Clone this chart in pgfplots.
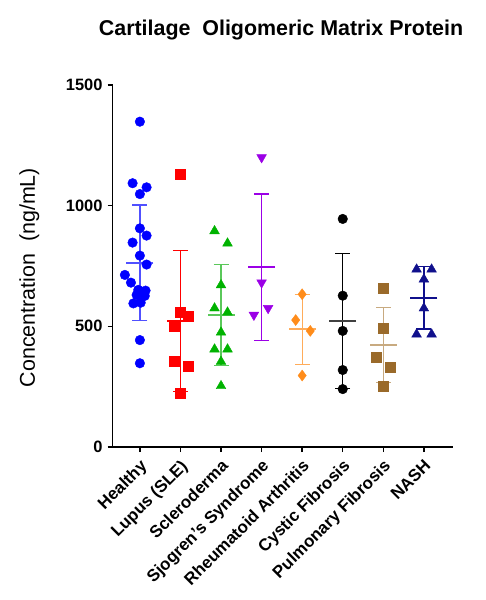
\documentclass[border=0pt]{standalone}
\usepackage{pgfplots}
\pgfplotsset{compat=1.18}
\usepackage{fontspec}
\setmainfont{Liberation Sans}
\definecolor{hblue}{RGB}{0,0,255}
\definecolor{hbar}{RGB}{80,80,255}
\definecolor{lred}{RGB}{255,0,0}
\definecolor{sgreen}{RGB}{0,178,0}
\definecolor{sbar}{RGB}{90,200,90}
\definecolor{spurple}{RGB}{155,0,230}
\definecolor{rorange}{RGB}{255,140,26}
\definecolor{rbar}{RGB}{255,172,90}
\definecolor{cgray}{RGB}{64,64,64}
\definecolor{pbrown}{RGB}{154,106,42}
\definecolor{pbar}{RGB}{200,170,128}
\definecolor{nnavy}{RGB}{16,16,140}
\pgfplotsset{
  msd/.style 2 args={only marks, mark=-, mark size=13.5bp, color=#1, mark options={line width=1.5bp},
    error bars/.cd, y dir=both, y explicit,
    error bar style={line width=1.3bp, color=#2},
    error mark options={rotate=90, mark size=7.5bp, line width=1.3bp, color=#2}},
}
\begin{document}
\begin{tikzpicture}
\path[use as bounding box] (0,0) rectangle (486bp,600bp);
\begin{axis}[
  at={(112.7bp,153bp)}, anchor=south west,
  scale only axis, width=340bp, height=362bp,
  xmin=-0.67, xmax=7.71, ymin=0, ymax=1500,
  axis x line*=bottom, axis y line*=left,
  axis line style={line width=1.4bp, black},
  xtick={0,1,2,3,4,5,6,7},
  xticklabels={Healthy,Lupus (SLE),Scleroderma,Sjogren's Syndrome,Rheumatoid Arthritis,Cystic Fibrosis,Pulmonary Fibrosis,NASH},
  ytick={0,500,1000,1500},
  tick align=outside, major tick length=5bp,
  tick style={line width=1.4bp, black},
  /pgf/number format/assume math mode=true,
  /pgf/number format/1000 sep={},
  yticklabel style={font=\bfseries\fontsize{16.5}{18}\selectfont, inner sep=1.5bp, xshift=-3.5bp},
  xticklabel style={font=\bfseries\fontsize{17}{19}\selectfont, rotate=45, anchor=north east, inner sep=1bp, xshift=-4bp, yshift=-3bp},
  ylabel={Concentration\ \ (ng/mL)},
  ylabel style={at={(axis description cs:-0.245,0.468)}, anchor=center, font=\fontsize{21.5}{23}\selectfont},
  title={Cartilage\ \ Oligomeric Matrix Protein},
  title style={at={(axis description cs:0.495,1.135)}, anchor=center, font=\bfseries\fontsize{21.5}{24}\selectfont},
  clip=false,
]
% mean and SD
\addplot[msd={hbar}{hbar}] coordinates {(0,763) +- (0,240)};
\addplot[msd={lred}{lred}] coordinates {(1,522) +- (0,292)};
\addplot[msd={sbar}{sbar}] coordinates {(2,547) +- (0,210)};
\addplot[msd={spurple}{spurple}] coordinates {(3,745) +- (0,303)};
\addplot[msd={rbar}{rbar}] coordinates {(4,488) +- (0,145)};
\addplot[msd={cgray}{black}] coordinates {(5,523) +- (0,280)};
\addplot[msd={pbar}{pbar}] coordinates {(6,423) +- (0,156)};
\addplot[msd={nnavy}{nnavy}] coordinates {(7,618) +- (0,129)};
% points
\addplot[only marks, mark=*, mark size=4.8bp, color=hblue, mark options={draw=hblue, fill=hblue}] coordinates {
(0,1348) (-0.18,1093) (0.165,1076) (0,1048) (0,906) (0.165,876) (-0.18,847)
(0,793) (0.165,756) (-0.37,713) (-0.22,681) (-0.04,651) (0.14,648) (-0.08,630)
(0.12,626) (-0.16,595) (0.02,598) (0,443) (0,347)};
\addplot[only marks, mark=square*, mark size=5bp, color=lred, mark options={draw=lred, fill=lred}] coordinates {
(1,1131) (1,557) (1.2,543) (0.84,501) (0.84,354) (1.18,336) (1,225)};
\addplot[only marks, mark=triangle*, mark size=5.6bp, color=sgreen, mark options={draw=sgreen, fill=sgreen}] coordinates {
(1.84,895) (2.16,844) (2,671) (1.84,575) (2.16,558) (2,475) (1.84,405) (2.16,405) (2,354) (2,253)};
\addplot[only marks, mark=triangle*, mark size=5.6bp, color=spurple, mark options={draw=spurple, fill=spurple, rotate=180}] coordinates {
(3,1200) (3,681) (3.16,575) (2.81,547)};
\addplot[only marks, mark=diamond*, mark size=5.5bp, color=rorange, mark options={draw=rorange, fill=rorange}] coordinates {
(4,633) (3.84,526) (4.2,481) (4,296)};
\addplot[only marks, mark=*, mark size=4.8bp, color=black, mark options={draw=black, fill=black}] coordinates {
(5,945) (5,627) (5,481) (5,319) (5,240)};
\addplot[only marks, mark=square*, mark size=5bp, color=pbrown, mark options={draw=pbrown, fill=pbrown}] coordinates {
(6,658) (6,492) (5.82,372) (6.16,329) (6,253)};
\addplot[only marks, mark=triangle*, mark size=5.6bp, color=nnavy, mark options={draw=nnavy, fill=nnavy}] coordinates {
(6.82,736) (7.19,736) (7,695) (7,575) (6.82,467) (7.19,467)};
\end{axis}
\end{tikzpicture}
\end{document}
